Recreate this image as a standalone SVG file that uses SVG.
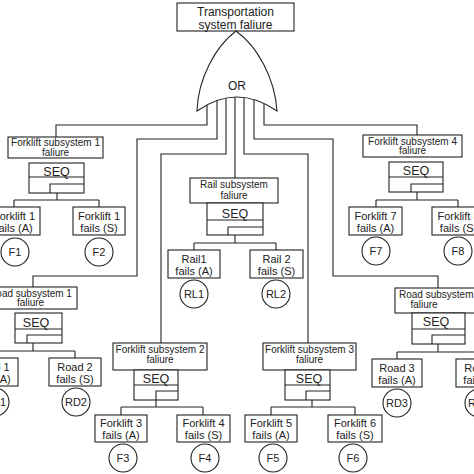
<svg xmlns="http://www.w3.org/2000/svg" width="474" height="474" viewBox="0 0 474 474">
<style>
.b{fill:#fff;stroke:#222;stroke-width:1.1}
.n{fill:none;stroke:#222;stroke-width:1.1}
.l{fill:none;stroke:#222;stroke-width:1.1}
text{font-family:"Liberation Sans",Arial,sans-serif;fill:#222;text-anchor:middle}
.s10{font-size:10px}
.s11{font-size:11px}
.s12{font-size:12px}
.sq{font-size:12.5px}
</style>
<rect width="474" height="474" fill="#fff"/>
<g id="connectors" class="l">
<path d="M207,95 V125 H56 V137"/>
<path d="M264,95 V125 H417 V135"/>
<path d="M217,95 V139 H137 V276 H33 V287"/>
<path d="M254,95 V139 H333 V276 H438 V288"/>
<path d="M226,95 V154 H161 V343"/>
<path d="M244,95 V154 H308 V343"/>
<path d="M235,95 V178"/>
<path d="M57,193 V200 M14,200 H99 M14,200 V207 M99,200 V207"/>
<path d="M235,235 V243 M194,243 H276 M194,243 V250 M276,243 V250"/>
<path d="M417,192 V200 M376,200 H458 M376,200 V207 M458,200 V207"/>
<path d="M33,343 V351 M-8,351 H75 M-8,351 V358 M75,351 V358"/>
<path d="M156,400 V407 M121,407 H203 M121,407 V415 M203,407 V415"/>
<path d="M312,400 V407 M271,407 H355 M271,407 V415 M355,407 V415"/>
<path d="M438,344 V352 M397,352 H482 M397,352 V359 M482,352 V359"/>
</g>
<g id="top">
<rect class="b" x="177" y="3" width="117" height="28"/>
<text class="s12" x="235.5" y="16">Transportation</text>
<text class="s12" x="235.5" y="28.5">system faliure</text>
</g>
<g id="or-gate">
<path class="b" d="M236,31 C216,46 198,78 197,111 Q237,83 277,111 C275,78 257,46 236,31 Z"/>
<text class="s12" x="237" y="90">OR</text>
</g>
<g id="fs1">
<rect class="b" x="8" y="137" width="95" height="21"/>
<text class="s10" x="55.5" y="146">Forklift subsystem 1</text>
<text class="s10" x="55.5" y="155.5">faliure</text>
<rect class="b" x="29" y="163" width="55" height="30"/>
<text class="sq" x="56.5" y="175.5">SEQ</text>
<path class="n" d="M29,177 H84 M50,193 V184 H84"/>
</g>
<g id="f1a"><rect class="b" x="-12" y="207" width="52" height="28"/><text class="s11" x="14" y="220">Forklift 1</text><text class="s11" x="14" y="231.5">fails (A)</text></g>
<g id="f1s"><rect class="b" x="73" y="207" width="52" height="28"/><text class="s11" x="99" y="220">Forklift 1</text><text class="s11" x="99" y="231.5">fails (S)</text></g>
<g id="F1"><circle class="b" cx="15" cy="252" r="14"/><text class="s11" x="15" y="256">F1</text></g>
<g id="F2"><circle class="b" cx="99" cy="252" r="14"/><text class="s11" x="99" y="256">F2</text></g>

<g id="rail">
<rect class="b" x="190" y="178" width="88" height="25"/>
<text class="s10" x="234" y="188">Rail subsystem</text>
<text class="s10" x="234" y="199">faliure</text>
<rect class="b" x="207" y="203" width="56" height="32"/>
<text class="sq" x="235" y="217.5">SEQ</text>
<path class="n" d="M207,220 H263 M228,235 V227 H263"/>
</g>
<g id="rl1a"><rect class="b" x="168" y="250" width="52" height="28"/><text class="s11" x="194" y="263">Rail1</text><text class="s11" x="194" y="274.5">fails (A)</text></g>
<g id="rl2s"><rect class="b" x="250" y="250" width="53" height="28"/><text class="s11" x="276.5" y="263">Rail 2</text><text class="s11" x="276.5" y="274.5">fails (S)</text></g>
<g id="RL1"><circle class="b" cx="194" cy="294" r="14"/><text class="s11" x="194" y="298">RL1</text></g>
<g id="RL2"><circle class="b" cx="276" cy="294" r="14"/><text class="s11" x="276" y="298">RL2</text></g>

<g id="fs4">
<rect class="b" x="363" y="135" width="99" height="22"/>
<text class="s10" x="412.5" y="144.5">Forklift subsystem 4</text>
<text class="s10" x="412.5" y="154">faliure</text>
<rect class="b" x="389" y="162" width="54" height="30"/>
<text class="sq" x="416" y="174.5">SEQ</text>
<path class="n" d="M389,177 H443 M411,192 V184 H443"/>
</g>
<g id="f7a"><rect class="b" x="349" y="207" width="53" height="28"/><text class="s11" x="375.5" y="220">Forklift 7</text><text class="s11" x="375.5" y="231.5">fails (A)</text></g>
<g id="f8s"><rect class="b" x="432" y="207" width="53" height="28"/><text class="s11" x="458.5" y="220">Forklift 8</text><text class="s11" x="458.5" y="231.5">fails (S)</text></g>
<g id="F7"><circle class="b" cx="376" cy="251" r="14"/><text class="s11" x="376" y="255">F7</text></g>
<g id="F8"><circle class="b" cx="458" cy="251" r="14"/><text class="s11" x="458" y="255">F8</text></g>

<g id="rs1">
<rect class="b" x="-16" y="287" width="93" height="22"/>
<text class="s10" x="30.5" y="296.5">Road subsystem 1</text>
<text class="s10" x="30.5" y="306">faliure</text>
<rect class="b" x="15" y="313" width="47" height="30"/>
<text class="sq" x="36" y="326.5">SEQ</text>
<path class="n" d="M15,329 H62 M27,343 V335 H62"/>
</g>
<g id="rd1a"><rect class="b" x="-34" y="358" width="52" height="28"/><text class="s11" x="-8" y="371">Road 1</text><text class="s11" x="-8" y="382.5">fails (A)</text></g>
<g id="rd2s"><rect class="b" x="49" y="358" width="52" height="28"/><text class="s11" x="75" y="371">Road 2</text><text class="s11" x="75" y="382.5">fails (S)</text></g>
<g id="RD1"><circle class="b" cx="-5" cy="402" r="14"/><text class="s11" x="-5" y="406">RD1</text></g>
<g id="RD2"><circle class="b" cx="76" cy="402" r="14"/><text class="s11" x="76" y="406">RD2</text></g>

<g id="fs2">
<rect class="b" x="113" y="343" width="94" height="27"/>
<text class="s10" x="160" y="352.5">Forklift subsystem 2</text>
<text class="s10" x="160" y="362.5">faliure</text>
<rect class="b" x="134" y="370" width="44" height="30"/>
<text class="sq" x="156" y="382.5">SEQ</text>
<path class="n" d="M134,385 H178 M156,400 V391 H178"/>
</g>
<g id="f3a"><rect class="b" x="95" y="415" width="52" height="27"/><text class="s11" x="121" y="427">Forklift 3</text><text class="s11" x="121" y="438.5">fails (A)</text></g>
<g id="f4s"><rect class="b" x="177" y="415" width="53" height="27"/><text class="s11" x="203.5" y="427">Forklift 4</text><text class="s11" x="203.5" y="438.5">fails (S)</text></g>
<g id="F3"><circle class="b" cx="123" cy="458" r="14"/><text class="s11" x="123" y="462">F3</text></g>
<g id="F4"><circle class="b" cx="205" cy="458" r="14"/><text class="s11" x="205" y="462">F4</text></g>

<g id="fs3">
<rect class="b" x="263" y="343" width="93" height="27"/>
<text class="s10" x="309.5" y="352.5">Forklift subsystem 3</text>
<text class="s10" x="309.5" y="362.5">faliure</text>
<rect class="b" x="285" y="370" width="45" height="30"/>
<text class="sq" x="309" y="382.5">SEQ</text>
<path class="n" d="M285,385 H330 M306,400 V391 H330"/>
</g>
<g id="f5a"><rect class="b" x="245" y="415" width="52" height="27"/><text class="s11" x="271" y="427">Forklift 5</text><text class="s11" x="271" y="438.5">fails (A)</text></g>
<g id="f6s"><rect class="b" x="328" y="415" width="54" height="27"/><text class="s11" x="355" y="427">Forklift 6</text><text class="s11" x="355" y="438.5">fails (S)</text></g>
<g id="F5"><circle class="b" cx="273" cy="458" r="14"/><text class="s11" x="273" y="462">F5</text></g>
<g id="F6"><circle class="b" cx="353" cy="458" r="14"/><text class="s11" x="353" y="462">F6</text></g>

<g id="rs2">
<rect class="b" x="395" y="288" width="93" height="25"/>
<text class="s10" x="399" y="297.5" style="text-anchor:start">Road subsystem</text>
<text class="s10" x="424" y="307.5">faliure</text>
<rect class="b" x="412" y="313" width="53" height="31"/>
<text class="sq" x="436" y="325.5">SEQ</text>
<path class="n" d="M412,329 H465 M432,344 V335 H465"/>
</g>
<g id="rd3a"><rect class="b" x="372" y="359" width="50" height="28"/><text class="s11" x="397" y="372">Road 3</text><text class="s11" x="397" y="383.5">fails (A)</text></g>
<g id="rd4s"><rect class="b" x="456" y="359" width="52" height="28"/><text class="s11" x="482" y="372">Road 4</text><text class="s11" x="482" y="383.5">fails (S)</text></g>
<g id="RD3"><circle class="b" cx="397" cy="403" r="14"/><text class="s11" x="397" y="407">RD3</text></g>
<g id="RD4"><circle class="b" cx="479" cy="403" r="14"/><text class="s11" x="479" y="407">RD4</text></g>
</svg>
